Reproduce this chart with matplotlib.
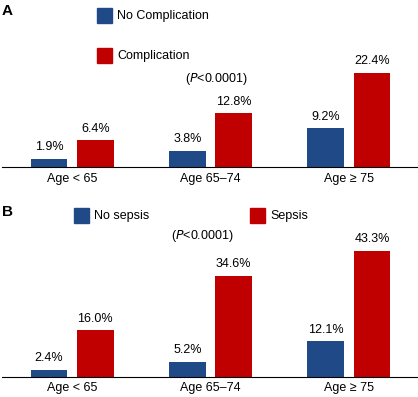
import matplotlib
matplotlib.use("Agg")
from matplotlib import pyplot as plt
from matplotlib.patches import Rectangle

plt.rcParams['font.family'] = ['Liberation Sans', 'DejaVu Sans']

W, H = 418, 397

groups = ["Age < 65", "Age 65\u201374", "Age \u2265 75"]
no_complication = [1.9, 3.8, 9.2]
complication = [6.4, 12.8, 22.4]
no_sepsis = [2.4, 5.2, 12.1]
sepsis = [16.0, 34.6, 43.3]

BLUE = "#1f4a87"
RED = "#c00000"

fig = plt.figure(figsize=(W / 100, H / 100), dpi=100)


def px_box(left, top, width, height):
    return [left / W, 1 - (top + height) / H, width / W, height / H]


def fx(x):
    return x / W


def fy(y):
    return 1 - y / H


def panel(ax, low, high, ymax):
    x = range(len(groups))
    bw = 0.266
    off = 0.167
    b1 = ax.bar([i - off for i in x], low, bw, color=BLUE)
    b2 = ax.bar([i + off for i in x], high, bw, color=RED)
    for bars, vals in ((b1, low), (b2, high)):
        for b, v in zip(bars, vals):
            ax.annotate(f"{v:.1f}%", (b.get_x() + b.get_width() / 2, v),
                        xytext=(0, 4), textcoords="offset points",
                        ha="center", va="bottom", fontsize=9)
    ax.set_xlim(-0.507, 2.5)
    ax.set_ylim(0, ymax)
    ax.set_xticks(list(x))
    ax.set_xticklabels(groups, fontsize=9)
    ax.tick_params(axis="x", length=0, pad=4)
    ax.set_yticks([])
    for s in ("top", "right", "left"):
        ax.spines[s].set_visible(False)
    ax.spines["bottom"].set_linewidth(0.8)
    ax.patch.set_alpha(0)


# panel A
axA = fig.add_axes(px_box(2, 0, 416, 167))
panel(axA, no_complication, complication, 167 / 4.2)

# panel B
axB = fig.add_axes(px_box(2, 195, 416, 181.7))
panel(axB, no_sepsis, sepsis, 181.7 / 2.91)


def legend_entry(x, y, color, label):
    fig.patches.append(Rectangle((fx(x), fy(y + 15)), 15 / W, 15 / H,
                                 transform=fig.transFigure, color=color))
    fig.text(fx(x + 20), fy(y + 7.5), label, fontsize=9, va="center", ha="left")


legend_entry(97, 8, BLUE, "No Complication")
legend_entry(97, 48, RED, "Complication")
legend_entry(74, 208, BLUE, "No sepsis")
legend_entry(250, 208, RED, "Sepsis")

fig.text(fx(216), fy(79), "($P$<0.0001)", fontsize=9, ha="center", va="center")
fig.text(fx(202), fy(236), "($P$<0.0001)", fontsize=9, ha="center", va="center")

fig.text(fx(2), fy(11), "A", fontsize=11, fontweight="bold", va="center")
fig.text(fx(2), fy(212), "B", fontsize=11, fontweight="bold", va="center")

fig.savefig("out.png", dpi=100)
